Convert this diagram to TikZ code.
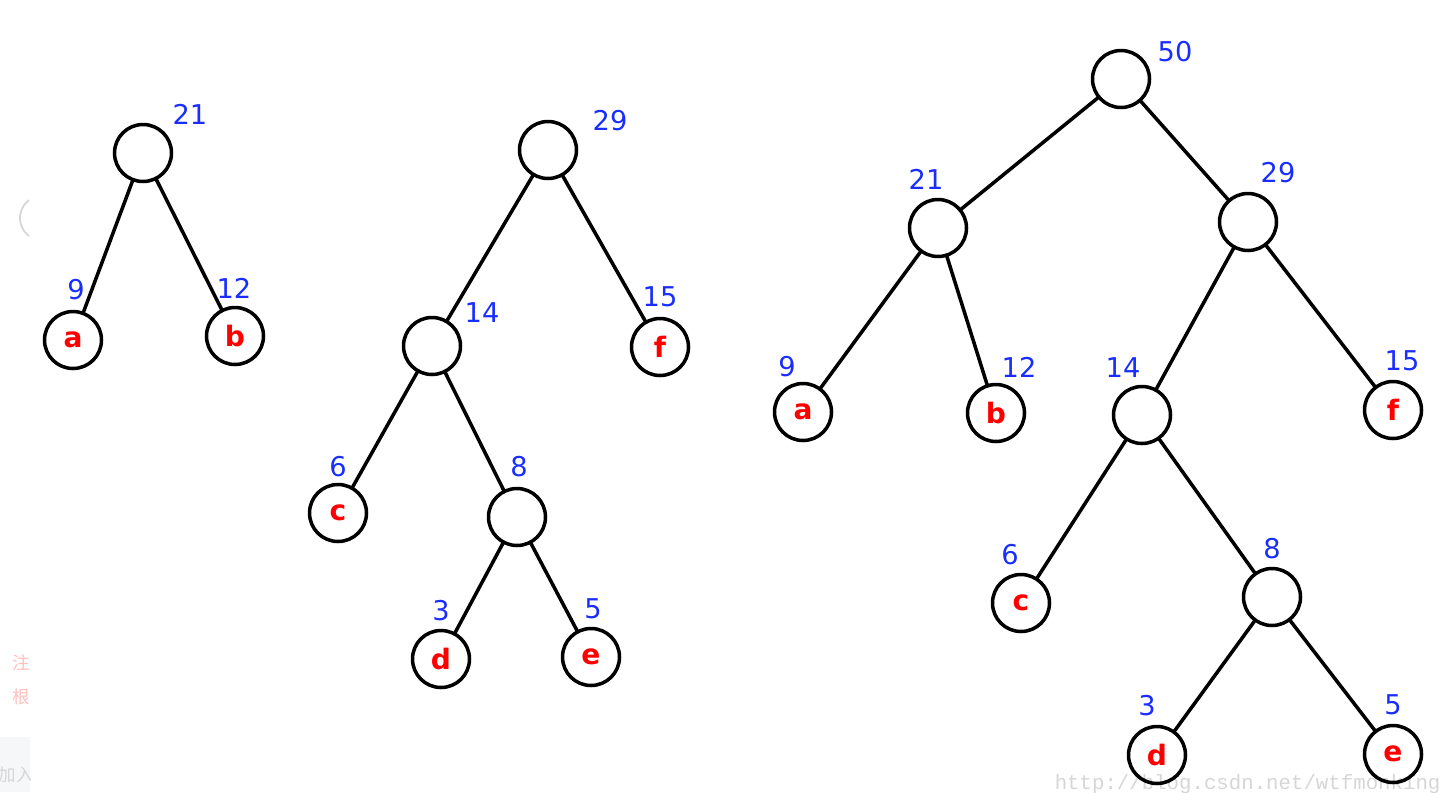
\documentclass[tikz,border=0pt]{standalone}
\usepackage{fontspec}
\setmainfont{DejaVu Sans}
\newfontfamily\cjkfont{Noto Sans CJK SC}
\newfontfamily\markfont{Liberation Mono}
\usepackage{tikz}
\definecolor{weightblue}{RGB}{25,45,255}
\definecolor{leafred}{RGB}{255,0,0}
\definecolor{marksilver}{RGB}{214,214,214}
\definecolor{notepink}{RGB}{255,190,190}
\definecolor{panelgray}{RGB}{246,247,249}
\newcommand{\weightfont}{\fontsize{15.5}{18}\selectfont}
\newcommand{\leaffont}{\fontsize{16}{19}\selectfont\bfseries}
\tikzstyle{hnode}=[draw, circle, inner sep=0, outer sep=0, minimum size=1.14cm]
\tikzstyle{leaf}=[hnode, text=leafred, font=\leaffont]
\tikzstyle{weight}=[inner sep=0, outer sep=0, text=weightblue, font=\weightfont]
\tikzstyle{huffman}=[x=0.02cm, y=-0.02cm, line width=2pt,
                     % Fixed page size, as in the screenshot.
                     execute at begin picture={\useasboundingbox (0,0) rectangle (1453,792);}]

\begin{document}
\begin{tikzpicture}[huffman]
        % Screenshot leftovers.
        \draw[marksilver, line width=1pt] (42.5,218) ++(127:22.5) arc (127:233:22.5);
        \node[text=notepink, font=\cjkfont\fontsize{10}{12}\selectfont] (N1) at (21,663) {注};
        \node[text=notepink, font=\cjkfont\fontsize{10}{12}\selectfont] (N2) at (21,697) {根};
        \begin{scope}
            \clip (0,737) rectangle (30,792);
            \fill[panelgray] (0,737) rectangle (30,792);
            \node[anchor=west, inner sep=0, text=marksilver, font=\cjkfont\fontsize{10}{12}\selectfont] (N3) at (-3,775) {加入};
        \end{scope}
        \node[anchor=base west, inner sep=0, text=marksilver, font=\markfont\fontsize{11.8}{14}\selectfont] (W) at (1053,789) {http://blog.csdn.net/wtfmonking};
        % First tree.
        \node[hnode] (R1) at (143,153) {};
        \node[leaf] (A1) at (73,340) {a};
        \node[leaf] (B1) at (235,336) {b};
        \draw (R1) -- (A1);
        \draw (R1) -- (B1);
        \node[weight] (L21a) at (190,114) {21};
        \node[weight] (L9a) at (76,290) {9};
        \node[weight] (L12a) at (234,288) {12};
        % Second tree.
        \node[hnode] (R2) at (548,150) {};
        \node[hnode] (M2) at (432,346) {};
        \node[leaf] (F2) at (660,347) {f};
        \node[leaf] (C2) at (338,513) {c};
        \node[hnode] (K2) at (517,517) {};
        \node[leaf] (D2) at (441,659) {d};
        \node[leaf] (E2) at (591,657) {e};
        \draw (R2) -- (M2);
        \draw (R2) -- (F2);
        \draw (M2) -- (C2);
        \draw (M2) -- (K2);
        \draw (K2) -- (D2);
        \draw (K2) -- (E2);
        \node[weight] (L29b) at (610,121) {29};
        \node[weight] (L14b) at (482,313) {14};
        \node[weight] (L15b) at (660,297) {15};
        \node[weight] (L6b) at (338,467) {6};
        \node[weight] (L8b) at (519,467) {8};
        \node[weight] (L3b) at (441,611) {3};
        \node[weight] (L5b) at (593,609) {5};
        % Third tree.
        \node[hnode] (R3) at (1121,79) {};
        \node[hnode] (P3) at (938,228) {};
        \node[hnode] (Q3) at (1248,222) {};
        \node[leaf] (A3) at (803,412) {a};
        \node[leaf] (B3) at (996,413) {b};
        \node[hnode] (M3) at (1142,415) {};
        \node[leaf] (F3) at (1393,410) {f};
        \node[leaf] (C3) at (1021,603) {c};
        \node[hnode] (K3) at (1272,597) {};
        \node[leaf] (D3) at (1157,755) {d};
        \node[leaf] (E3) at (1393,754) {e};
        \draw (R3) -- (P3);
        \draw (R3) -- (Q3);
        \draw (P3) -- (A3);
        \draw (P3) -- (B3);
        \draw (Q3) -- (M3);
        \draw (Q3) -- (F3);
        \draw (M3) -- (C3);
        \draw (M3) -- (K3);
        \draw (K3) -- (D3);
        \draw (K3) -- (E3);
        \node[weight] (L50c) at (1175,52) {50};
        \node[weight] (L21c) at (926,179) {21};
        \node[weight] (L29c) at (1278,173) {29};
        \node[weight] (L9c) at (787,367) {9};
        \node[weight] (L12c) at (1019,367) {12};
        \node[weight] (L14c) at (1123,368) {14};
        \node[weight] (L15c) at (1402,361) {15};
        \node[weight] (L6c) at (1010,555) {6};
        \node[weight] (L8c) at (1272,549) {8};
        \node[weight] (L3c) at (1147,706) {3};
        \node[weight] (L5c) at (1393,705) {5};
    \end{tikzpicture}
\end{document}
